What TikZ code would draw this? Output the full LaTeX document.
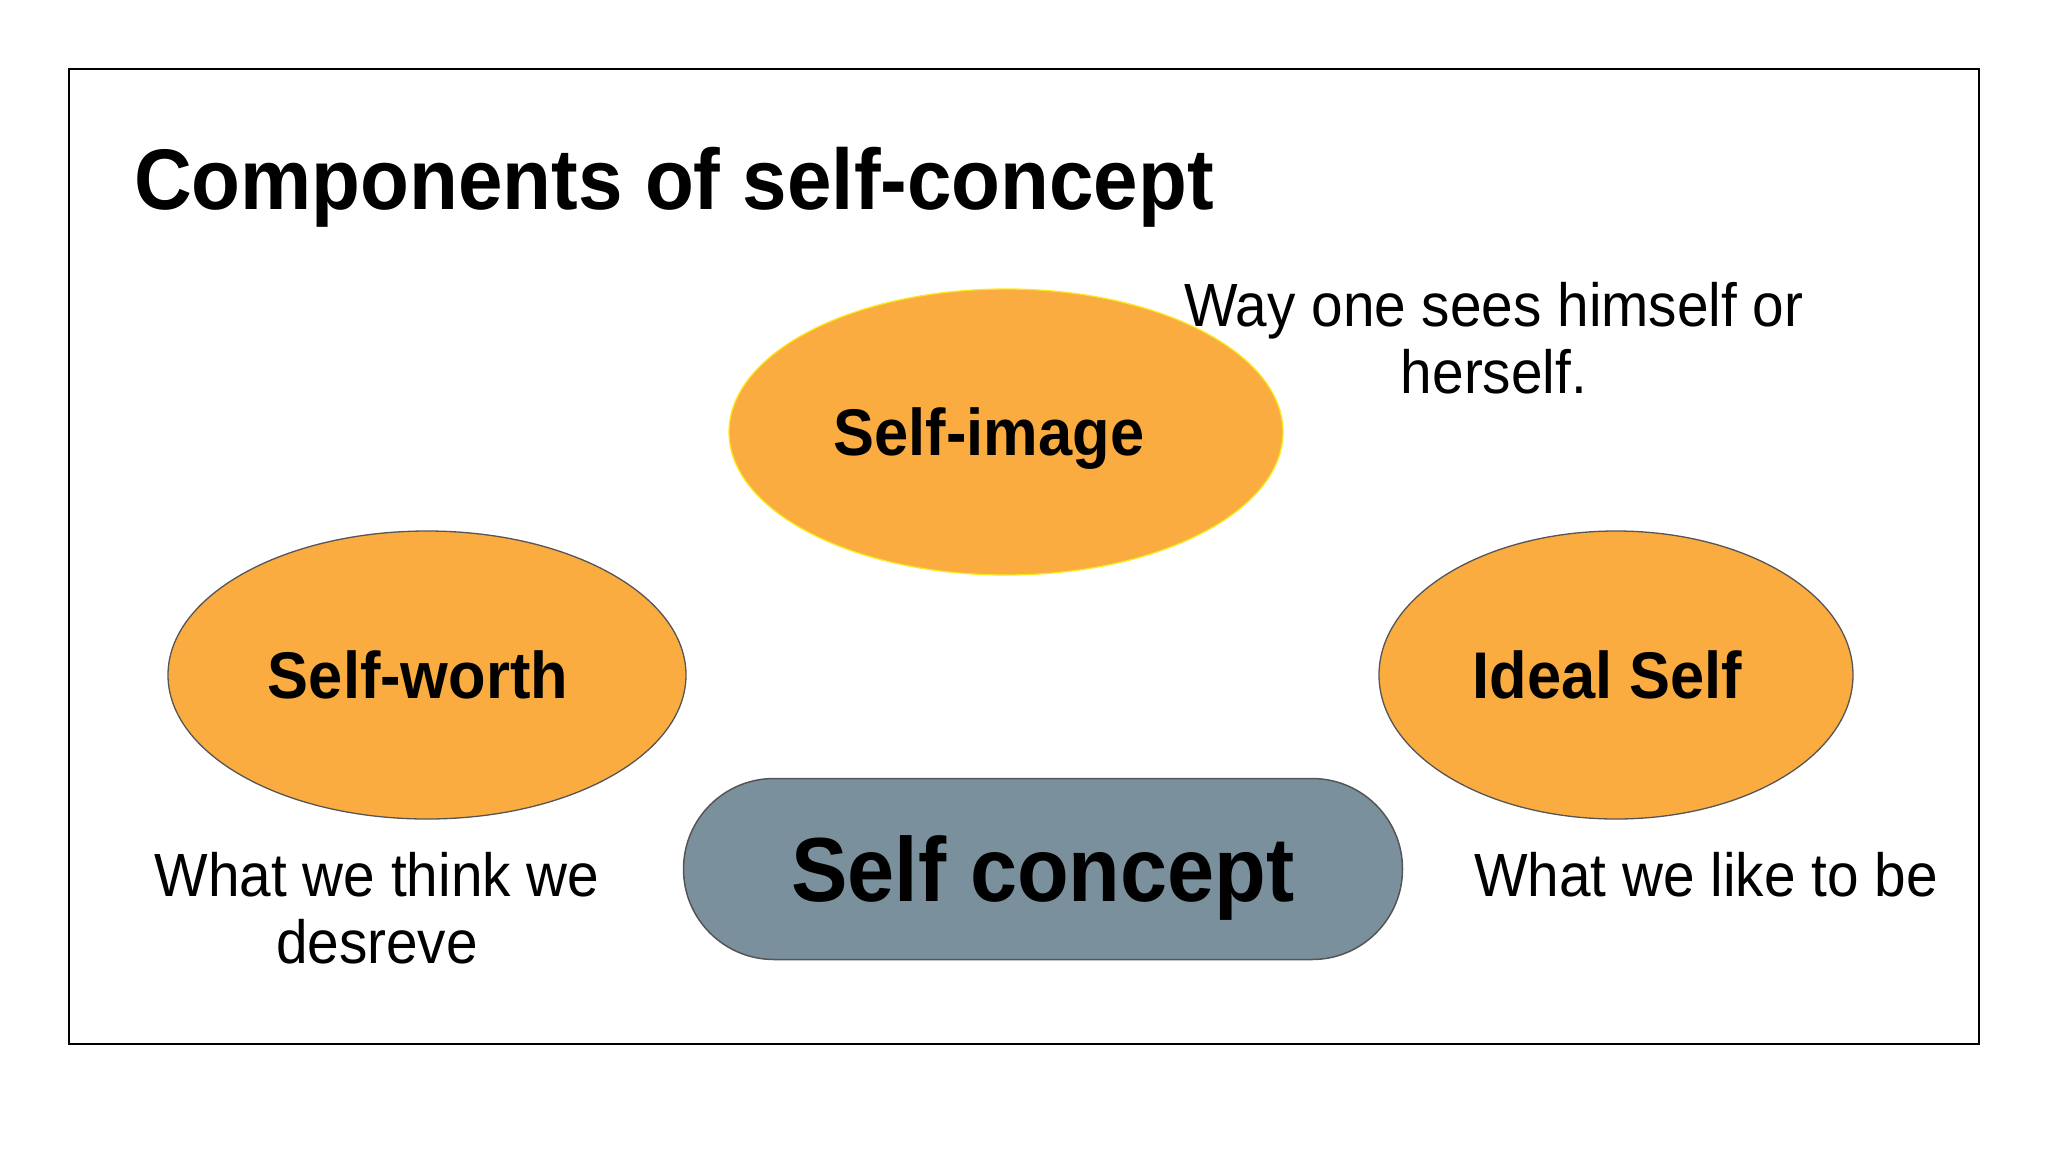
\documentclass[tikz,border=0pt]{standalone}
\usepackage{fontspec}
\setmainfont{Liberation Sans}[FakeStretch=0.93]
\usetikzlibrary{shapes,positioning}
\definecolor{partorange}{RGB}{251,172,65}
\definecolor{coreblue}{RGB}{122,145,157}
\definecolor{rimgray}{RGB}{85,85,85}
\definecolor{rimyellow}{RGB}{250,232,30}

\begin{document}
\begin{tikzpicture}[x=1pt,y=-1pt,
  part/.style={ellipse,draw=rimgray,line width=1.3pt,fill=partorange,inner sep=0pt,
  text depth=0pt,font=\fontsize{66}{79}\selectfont\bfseries},
  core/.style={rounded rectangle,draw=rimgray,line width=1.5pt,fill=coreblue,inner sep=0pt,
  text depth=0pt,minimum width=719pt,minimum height=181pt,font=\fontsize{91}{109}\selectfont\bfseries},
  note/.style={align=center,inner sep=0pt,anchor=base,font=\fontsize{61}{67}\selectfont},
]
\useasboundingbox (0,0) rectangle (2048,1152);

% the frame
\draw[line width=2pt] (69,69) rectangle (1979,1044);

% the title
\node[anchor=base west,inner sep=0pt,font=\fontsize{86}{100}\selectfont\bfseries] (title) at (134,209) {Components of self-concept};

% the components
\node[part,draw=rimyellow,minimum width=554pt,minimum height=286pt] (image) at (1006,432) {Self-image\kern34pt};
\node[part,minimum width=518pt,minimum height=288pt] (worth) at (427,675) {Self-worth\kern18pt};
\node[part,minimum width=474pt,minimum height=288pt] (ideal) at (1616,675) {Ideal Self\kern17pt};

% the whole
\node[core] (concept) at (1043,869) {Self concept};

% the notes (base is the last line)
\node[note] (imagenote) at (1494,393) {Way one sees himself or\\herself.};
\node[note] (worthnote) at (377,963) {What we think we\\desreve};
\node[note] (idealnote) at (1706,896) {What we like to be};
\end{tikzpicture}
\end{document}
